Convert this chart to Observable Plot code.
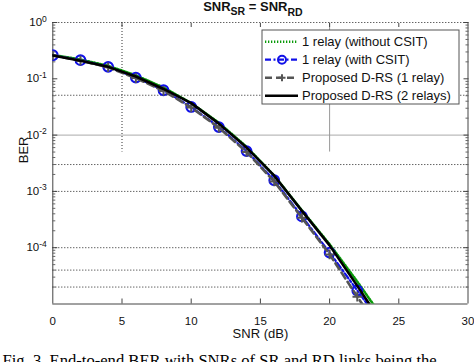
<!DOCTYPE html>
<html>
<head>
<meta charset="utf-8">
<script src="https://cdn.jsdelivr.net/npm/d3@7"></script>
<script src="https://cdn.jsdelivr.net/npm/@observablehq/plot@0.6"></script>
<style>
  html, body { margin: 0; padding: 0; background: #fff; overflow: hidden; }
  svg { display: block; }
</style>
</head>
<body>
<div id="chart"></div>
<script>
// ---- data ----
const snr = [0, 2, 4, 6, 8, 10, 12, 14, 16, 18, 20, 22, 24];
const berWithoutCSIT = [0.265, 0.22, 0.17, 0.115, 0.07, 0.037, 0.0165, 0.0062, 0.0019, 4.6e-4, 1.15e-4, 2.5e-5, 5e-6];
const berWithCSIT    = [0.262, 0.214, 0.163, 0.105, 0.0626, 0.0316, 0.0139, 0.0052, 0.00158, 3.6e-4, 8.2e-5, 1.74e-5, 3.7e-6];
const berDRS1        = [0.26, 0.21, 0.16, 0.103, 0.061, 0.031, 0.0135, 0.005, 0.0015, 3.4e-4, 7.6e-5, 1.35e-5, 2.5e-6];
const berDRS2        = [0.26, 0.21, 0.163, 0.11, 0.066, 0.037, 0.016, 0.006, 0.0019, 4.5e-4, 1.1e-4, 2.1e-5, 3.8e-6];
const seriesNames = ["1 relay (without CSIT)", "1 relay (with CSIT)", "Proposed D-RS (1 relay)", "Proposed D-RS (2 relays)"];

const xTicks = [0, 5, 10, 15, 20, 25, 30];
const xInnerTicks = [5, 10, 15, 20, 25];
const yTicks = [1, 1e-1, 1e-2, 1e-3, 1e-4];
const yTickExponents = ["0", "-1", "-2", "-3", "-4"];
const hGridDotted = [1, 0.051, 0.003, 0.001, 1e-4, 4e-5, 2e-5];
const hGridSolid = [0.01];
const vGridDotted = [5];
const vGridSolid = [20];
const vGridEnd = 0.005;
const xEdges = [0, 30];
const yBottom = [1e-5];

const titleParts = ["SNR", "SR", " = SNR", "RD"];
const xLabel = "SNR (dB)";
const yLabel = "BER";
const caption = "Fig. 3. End-to-end BER with SNRs of SR and RD links being the";

// ---- styles ----
const FONT = "'Liberation Sans', Arial, Helvetica, sans-serif";
const styles = [
  {stroke: "#0a9a0a", strokeWidth: 2.6, dash: "1.3,1.7", marker: null},
  {stroke: "#1010e8", strokeWidth: 2.2, dash: "6,2.5,2,2.5", marker: "circle"},
  {stroke: "#555555", strokeWidth: 2.6, dash: "7,4", marker: "plus"},
  {stroke: "#000000", strokeWidth: 2.6, dash: null, marker: null}
];
const allSeries = [berWithoutCSIT, berWithCSIT, berDRS1, berDRS2];
const tables = allSeries.map((arr, k) => snr.map((s, i) => ({snr: s, ber: arr[i], series: seriesNames[k]})));

// minor log ticks (axis decoration)
const yMinor = [];
for (const e of [-5, -4, -3, -2, -1]) for (let m = 2; m <= 9; m++) yMinor.push(m * Math.pow(10, e));

function legendMark(index, scales, values, dims) {
  const right = dims.width - dims.marginRight - 8.5;
  const top = dims.marginTop + 8;
  const w = 197, h = 74, left = right - w;
  const g = d3.create("svg:g").attr("font-family", FONT).attr("font-size", 13).attr("text-anchor", "start");
  g.append("rect").attr("x", left).attr("y", top).attr("width", w).attr("height", h)
    .attr("fill", "#fff").attr("stroke", "#555").attr("stroke-width", 1);
  seriesNames.forEach((name, i) => {
    const st = styles[i];
    const cy = top + 11.7 + i * 18;
    g.append("line").attr("x1", left + 3).attr("x2", left + 36).attr("y1", cy).attr("y2", cy)
      .attr("stroke", st.stroke).attr("stroke-width", st.strokeWidth)
      .attr("stroke-dasharray", st.dash);
    const mx = left + 20;
    if (st.marker === "circle") {
      g.append("circle").attr("cx", mx).attr("cy", cy).attr("r", 4)
        .attr("fill", "none").attr("stroke", st.stroke).attr("stroke-width", 2);
    } else if (st.marker === "plus") {
      g.append("path").attr("d", `M${mx - 3.5},${cy}h7M${mx},${cy - 3.5}v7`)
        .attr("stroke", st.stroke).attr("stroke-width", 2);
    }
    g.append("text").attr("x", left + 40).attr("y", cy).attr("dy", "0.36em")
      .attr("text-anchor", "start").attr("fill", "#111").text(name);
  });
  return g.node();
}

function titleMark(index, scales, values, dims) {
  const cx = dims.marginLeft + (dims.width - dims.marginLeft - dims.marginRight) / 2 - 7;
  const t = d3.create("svg:text").attr("x", cx).attr("y", 10.5).attr("text-anchor", "middle")
    .attr("font-family", FONT).attr("font-weight", "bold").attr("font-size", 13).attr("fill", "#111");
  t.append("tspan").text(titleParts[0]);
  t.append("tspan").attr("font-size", 10.5).attr("dy", 4).text(titleParts[1]);
  t.append("tspan").attr("dy", -4).text(titleParts[2]);
  t.append("tspan").attr("font-size", 10.5).attr("dy", 5).text(titleParts[3]);
  return t.node();
}

const lineMarks = tables.map((tb, k) => Plot.line(tb, {
  x: "snr", y: "ber", stroke: styles[k].stroke, strokeWidth: styles[k].strokeWidth,
  strokeDasharray: styles[k].dash, clip: true
}));

const yFmt = d => "10^" + yTickExponents[yTicks.indexOf(d)];

const plot = Plot.plot({
  width: 474,
  height: 362,
  marginLeft: 52.3,
  marginRight: 6.5,
  marginTop: 22,
  marginBottom: 58.5,
  style: {fontFamily: FONT, fontSize: "11.5px", color: "#111", background: "#fff", overflow: "visible"},
  x: {domain: [0, 30], label: null},
  y: {type: "log", domain: [1e-5, 1], label: null},
  marks: [
    // grid
    Plot.ruleY(hGridSolid, {y: d => d, stroke: "#aaa", strokeWidth: 1}),
    Plot.ruleY(hGridDotted, {y: d => d, stroke: "#222", strokeWidth: 1, strokeDasharray: "1,2"}),
    Plot.ruleX(vGridDotted, {x: d => d, y1: 1, y2: vGridEnd, stroke: "#333", strokeDasharray: "1,2"}),
    Plot.ruleX(vGridSolid, {x: d => d, y1: 1, y2: vGridEnd, stroke: "#999"}),
    // axes frame (left, right, bottom)
    Plot.ruleX(xEdges, {x: d => d, stroke: "#444"}),
    Plot.ruleY(yBottom, {y: d => d, stroke: "#444"}),
    // curves
    lineMarks[0],
    lineMarks[1],
    Plot.dot(tables[1], {x: "snr", y: "ber", r: 4.8, stroke: styles[1].stroke, strokeWidth: 2.2, fill: "none", clip: true}),
    lineMarks[2],
    Plot.dot(tables[2], {x: "snr", y: "ber", symbol: "plus", r: 3.2, stroke: styles[2].stroke, strokeWidth: 2, clip: true}),
    lineMarks[3],
    // axes
    Plot.axisX(xTicks, {anchor: "bottom", label: null, tickSize: 0, tickPadding: 13, fontSize: 11.5, fill: "#111"}),
    Plot.axisX(xInnerTicks, {anchor: "bottom", label: null, tickSize: -5, tickFormat: () => "", stroke: "#444"}),
    Plot.axisX(xInnerTicks, {anchor: "top", label: null, tickSize: -4, tickFormat: () => "", stroke: "#444"}),
    Plot.axisY(yTicks, {anchor: "left", label: null, tickSize: 0, tickPadding: 6, tickFormat: yFmt, fontSize: 11.5, fill: "#111"}),
    Plot.axisY(yTicks, {anchor: "left", label: null, tickSize: -5, tickFormat: () => "", stroke: "#444"}),
    Plot.axisY(yMinor, {anchor: "left", label: null, tickSize: -3, tickFormat: () => "", stroke: "#666"}),
    Plot.axisY(yTicks, {anchor: "right", label: null, tickSize: -5, tickFormat: () => "", stroke: "#444"}),
    Plot.axisY(yMinor, {anchor: "right", label: null, tickSize: -3, tickFormat: () => "", stroke: "#666"}),
    // labels
    Plot.text([xLabel], {frameAnchor: "bottom", dy: 30, lineAnchor: "middle", fontSize: 13, fill: "#111"}),
    Plot.text([yLabel], {frameAnchor: "left", dx: -29.3, rotate: -90, lineAnchor: "middle", fontSize: 13, fill: "#111"}),
    Plot.text([caption], {frameAnchor: "bottom-left", dx: -50.3, dy: 62, textAnchor: "start", lineAnchor: "bottom",
      fontSize: 16.6, fontFamily: "'Liberation Serif', 'Times New Roman', serif", fill: "#000"}),
    titleMark,
    legendMark
  ]
});

// render superscripts in y tick labels
d3.select(plot).selectAll("text").each(function () {
  const txt = this.textContent;
  const m = /^10\^(-?\d+)$/.exec(txt);
  if (m) {
    const sel = d3.select(this);
    sel.text(null);
    sel.append("tspan").text("10");
    sel.append("tspan").attr("font-size", 8.5).attr("dy", "-0.55em").text(m[1]);
  }
});

document.getElementById("chart").appendChild(plot);
</script>
</body>
</html>
